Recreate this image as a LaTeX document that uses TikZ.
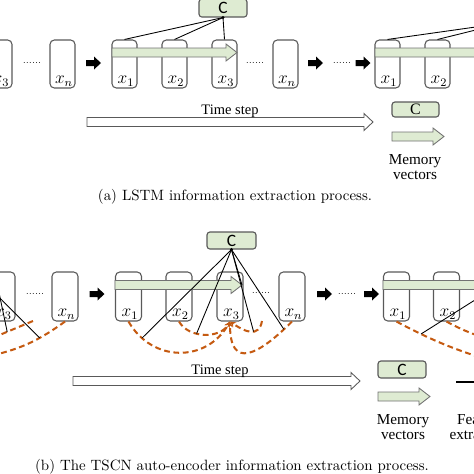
\documentclass[tikz,border=0pt]{standalone}
\usepackage{fontspec}
\usepackage{tikz}
\usepackage{xcolor}
\usetikzlibrary{arrows.meta}
\newfontfamily\timesfont{Liberation Serif}
\newfontfamily\calibrifont{Carlito}
\edef\px{0.02426cm}
\definecolor{boxgrey}{RGB}{89,89,89}
\definecolor{memgreen}{RGB}{222,235,210}
\definecolor{deporange}{RGB}{197,90,17}
\tikzstyle{cell}=[draw=boxgrey,line width=0.75pt,rounded corners=3pt,minimum width=25*\px,minimum height=48*\px,inner sep=0pt]
\tikzstyle{cellb}=[cell,minimum width=26*\px,minimum height=49*\px]
\tikzstyle{xlab}=[anchor=base,yshift=5*\px,xshift=1.5*\px,inner sep=0pt,font=\fontsize{11.5}{13}\selectfont]
\tikzstyle{ctx}=[draw=boxgrey,fill=memgreen,line width=0.75pt,rounded corners=2pt,inner sep=0pt,font=\fontsize{12}{14}\calibrifont]
\tikzstyle{mem}=[draw=boxgrey!85,fill=memgreen,line width=0.6pt,line join=miter]
\tikzstyle{timestep}=[draw=boxgrey,fill=white,line width=0.6pt,line join=miter]
\tikzstyle{nextstep}=[fill=black]
\tikzstyle{dots}=[font=\fontsize{6}{7}\selectfont,inner sep=0pt]
\tikzstyle{dep}=[draw=deporange,line width=1.4pt,dash pattern=on 4pt off 2.5pt]
\tikzstyle{deparrow}=[dep,-{Stealth[length=4pt,width=4pt]}]
\tikzstyle{feat}=[draw=black,line width=0.6pt]
\tikzstyle{legtext}=[font=\fontsize{10.5}{10.6}\timesfont,align=center,inner sep=0pt]
% block arrow: style, tail centre, length, shaft half, head half, head length, tip name
\newcommand{\blockarrow}[7]{\path[#1] (#2) ++(0,#4) -- ++({#3-#6},0) -- ++(0,{#5-#4}) -- ++(#6,-#5) coordinate (#7) -- ++(-#6,-#5) -- ++(0,{#5-#4}) -- ++({#6-#3},0) -- cycle;}

\begin{document}
\begin{tikzpicture}[x=\px,y=\px]
	\clip (0,0) rectangle (474,-474);
	% (a) LSTM
	\node[cell,label={[xlab]south:$x_3$}] (aPrevThree) at (-0.5,-64) {};
	\node[dots] (aDotsA) at (32,-63) {......};
	\node[cell,label={[xlab]south:$x_n$}] (aPrevN) at (62.5,-64) {};
	\blockarrow{nextstep}{86,-63}{15}{3}{6.5}{7}{aNextA}
	\node[cell,label={[xlab]south:$x_1$}] (aOne) at (124.5,-64) {};
	\node[cell,label={[xlab]south:$x_2$}] (aTwo) at (174.5,-64) {};
	\node[cell,label={[xlab]south:$x_3$}] (aThree) at (224.5,-64) {};
	\node[dots] (aDotsB) at (255,-63) {......};
	\node[cell,label={[xlab]south:$x_n$}] (aN) at (285.5,-64) {};
	\blockarrow{nextstep}{308,-63}{15}{3}{6.5}{7}{aNextB}
	\node[dots] (aDotsC) at (342,-63) {......};
	\blockarrow{nextstep}{355.5,-63}{15}{3}{6.5}{7}{aNextC}
	\node[cell,label={[xlab]south:$x_1$}] (aNextOne) at (387.5,-64) {};
	\node[cell,label={[xlab]south:$x_2$}] (aNextTwo) at (437.5,-64) {};

	\blockarrow{mem}{112,-52.5}{125}{4.5}{8.5}{11}{aMemTip}
	\blockarrow{mem}{375,-52.5}{125}{4.5}{8.5}{11}{aNextMemTip}

	\node[ctx,minimum width=48*\px,minimum height=18*\px] (aCtx) at (223,-8) {C};
	\coordinate (aNextCtx) at (504,-23);
	\draw[feat] (aCtx.south) -- (aOne.north);
	\draw[feat] (aCtx.south) -- (aTwo.north);
	\draw[feat] (aCtx.south) -- (aThree.north);
	\fill (aCtx.south) circle (1.6);
	\draw[feat] (aNextOne.north) -- (aNextCtx);
	\draw[feat] (aNextTwo.north) -- (aNextCtx);

	\blockarrow{timestep}{87,-122}{286}{4.5}{8.5}{9}{aTimeTip}
	\node[font=\fontsize{10}{11}\timesfont,inner sep=0pt] (aTimeText) at (230,-111) {Time step};
	\node[ctx,minimum width=47*\px,minimum height=15*\px,font=\fontsize{11}{12}\timesfont] (aLegCtx) at (415.5,-109.5) {C};
	\blockarrow{mem}{392,-136.5}{52}{4.5}{8.5}{11}{aLegMemTip}
	\node[legtext] (aLegMemText) at (415,-167) {Memory\\vectors};
	\node[font=\fontsize{10.3}{12}\selectfont] (aCaption) at (235,-197) {(a) LSTM information extraction process.};

	% (b) TSCN
	\node[cellb,label={[xlab]south:$x_3$}] (bPrevThree) at (2,-296.5) {};
	\node[dots] (bDotsA) at (35,-294) {......};
	\coordinate (bPrevFour) at (33,-321);
	\node[cellb,label={[xlab]south:$x_n$}] (bPrevN) at (65,-296.5) {};
	\blockarrow{nextstep}{89.5,-294}{15}{3}{6.5}{7}{bNextA}
	\node[cellb,label={[xlab]south:$x_1$}] (bOne) at (128.5,-296.5) {};
	\node[cellb,label={[xlab]south:$x_2$}] (bTwo) at (179,-296.5) {};
	\node[cellb,label={[xlab]south:$x_3$}] (bThree) at (230,-296.5) {};
	\node[dots] (bDotsB) at (261,-293) {......};
	\coordinate (bFour) at (262,-321);
	\node[cellb,label={[xlab]south:$x_n$}] (bN) at (292,-296.5) {};
	\blockarrow{nextstep}{317,-294}{15}{3}{6.5}{7}{bNextB}
	\node[dots] (bDotsC) at (347,-294) {......};
	\blockarrow{nextstep}{364,-294}{15}{3}{6.5}{7}{bNextC}
	\node[cellb,label={[xlab]south:$x_1$}] (bNextOne) at (396.5,-296.5) {};
	\node[cellb,label={[xlab]south:$x_2$}] (bNextTwo) at (446.5,-296.5) {};

	\blockarrow{mem}{115,-285}{127}{4.5}{8.5}{11}{bMemTip}
	\blockarrow{mem}{383,-285}{127}{4.5}{8.5}{11}{bNextMemTip}

	% dependencies
	\draw[deparrow] (bOne.south) to[out=-60,in=-120,looseness=1.2] coordinate[pos=0.16] (bFeatOne) (bThree.south);
	\draw[deparrow] (bTwo.south) to[out=-60,in=-120] coordinate[pos=0.37] (bFeatTwo) (bThree.south);
	\draw[deparrow] (bFour) to[out=-100,in=-35,looseness=1.4] coordinate[pos=0.4] (bFeatFour) (bThree.south);
	\draw[deparrow] (bN.south) to[out=-135,in=-90,looseness=2] coordinate[pos=0.08] (bFeatN) (bThree.south);

	\coordinate (bOffLA) at (-15,-357);
	\coordinate (bOffLB) at (-10,-339);
	\coordinate (bSrcLA) at (-20,-278);
	\coordinate (bSrcLB) at (-3,-283);
	\draw[dep] (bPrevN.south) to[bend left=12] coordinate[pos=0.33] (bFeatPrevN) (bOffLA);
	\draw[dep] (bPrevFour) to coordinate[pos=0.6] (bFeatPrevFour) (bOffLB);
	\draw[feat] (bSrcLA) -- (bFeatPrevN);
	\draw[feat] (bSrcLB) -- (bFeatPrevFour);

	\coordinate (bOffRA) at (485,-359);
	\coordinate (bOffRB) at (485,-338);
	\coordinate (bSrcRA) at (540,-259);
	\draw[dep] (bNextOne.south) to[bend right=5] coordinate[pos=0.27] (bFeatNextOne) (bOffRA);
	\draw[dep] (bNextTwo.south) to[bend right=5] (bOffRB);
	\draw[feat] (bFeatNextOne) -- (bSrcRA);

	\node[ctx,minimum width=49*\px,minimum height=17*\px] (bCtx) at (231.5,-240.5) {C};
	\draw[feat] (bCtx.south) -- (bFeatOne);
	\draw[feat] (bCtx.south) -- (bFeatTwo);
	\draw[feat] (bCtx.south) -- (bMemTip);
	\draw[feat] (bCtx.south) -- (bFeatFour);
	\draw[feat] (bCtx.south) -- (bFeatN);
	\fill (bCtx.south) circle (1.6);

	\blockarrow{timestep}{73,-381}{287}{4.5}{8.5}{9}{bTimeTip}
	\node[font=\fontsize{10}{11}\timesfont,inner sep=0pt] (bTimeText) at (220,-371) {Time step};
	\node[ctx,minimum width=48*\px,minimum height=17*\px] (bLegCtx) at (402,-369.5) {C};
	\blockarrow{mem}{378,-396.5}{52}{4.5}{8.5}{11}{bLegMemTip}
	\node[legtext] (bLegMemText) at (403,-427) {Memory\\vectors};
	\coordinate (bLegFeatA) at (456,-382);
	\coordinate (bLegFeatB) at (500,-382);
	\draw[feat,line width=0.8pt] (bLegFeatA) -- (bLegFeatB);
	\node[legtext] (bLegFeatText) at (480,-427) {Feature\\extraction};
	\node[font=\fontsize{10.3}{12}\selectfont] (bCaption) at (232,-467) {(b) The TSCN auto-encoder information extraction process.};
\end{tikzpicture}
\end{document}
